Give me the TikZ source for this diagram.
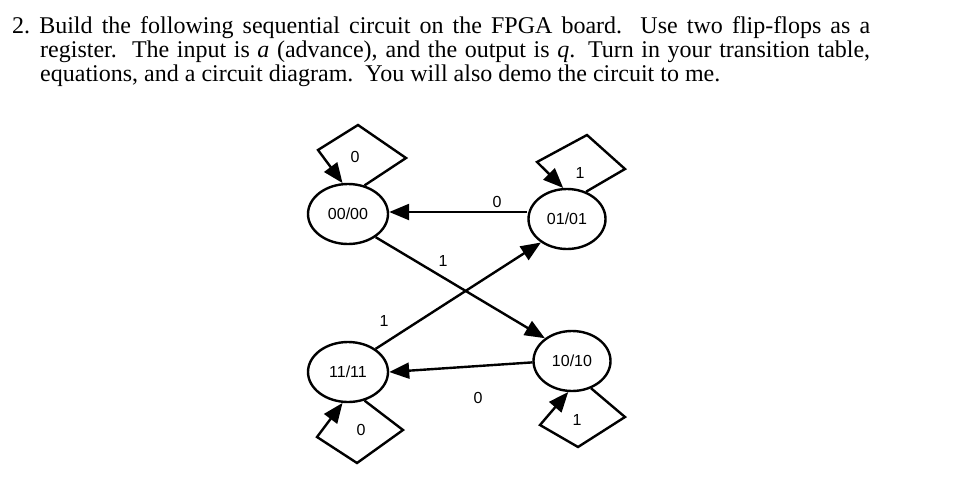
\documentclass[tikz,border=0pt]{standalone}
\usepackage{fontspec}
\setmainfont{Liberation Serif}
\newfontfamily\lsans{Liberation Sans}
\usetikzlibrary{arrows.meta,shapes.geometric}
\begin{document}
\begin{tikzpicture}[x=1pt,y=-1pt,
  st/.style={draw,line width=2.4pt,ellipse,minimum width=80pt,minimum height=60pt,inner sep=0pt,font=\lsans\fontsize{16}{16}\selectfont},
  lp/.style={line width=2.4pt,-{Triangle[length=20pt,width=16pt]},line join=miter},
  ed/.style={line width=2.4pt,-{Triangle[length=20pt,width=16pt]}},
  lb/.style={font=\lsans\fontsize{16}{16}\selectfont,inner sep=0pt},
  hd/.style={anchor=base west,inner sep=0pt,font=\fontsize{24}{26}\selectfont}]
\useasboundingbox (0,0) rectangle (973,490);
\node[hd] (l1) at (12,33) {\makebox[858pt][s]{2.~Build the following sequential circuit on the FPGA board.\ \ Use two flip-flops as a}};
\node[hd] (l2) at (40,57) {\makebox[830pt][s]{register.\ \ The input is \textit{a} (advance), and the output is \textit{q}. Turn in your transition table,}};
\node[hd] (l3) at (40,81) {equations, and a circuit diagram.\ \ You will also demo the circuit to me.};

\node[st] (a) at (348,214) {00/00};
\node[st,minimum width=77pt] (b) at (567,219) {01/01};
\node[st] (d) at (348,372) {11/11};
\node[st,minimum width=77pt] (c) at (572,361) {10/10};

\coordinate (a1) at (406,158); \coordinate (a2) at (358,125); \coordinate (a3) at (318,150);
\draw[lp] (a.60) -- (a1) -- (a2) -- (a3) -- (a.100);
\node[lb] (la) at (355,157) {0};
\coordinate (b1) at (625,169); \coordinate (b2) at (587,135); \coordinate (b3) at (537,162);
\draw[lp] (b.55) -- (b1) -- (b2) -- (b3) -- (b.97);
\node[lb] (lb1) at (580,173) {1};
\coordinate (d1) at (403,430); \coordinate (d2) at (357,463); \coordinate (d3) at (317,437);
\draw[lp] (d.-60) -- (d1) -- (d2) -- (d3) -- (d.-100);
\node[lb] (ld) at (361,430) {0};
\coordinate (c1) at (625,417); \coordinate (c2) at (578,447); \coordinate (c3) at (540,425);
\draw[lp] (c.-55) -- (c1) -- (c2) -- (c3) -- (c.-97);
\node[lb] (lc) at (577,420) {1};

\draw[ed] (b.west |- 0,212) -- (a.east |- 0,212);
\node[lb] (e1) at (497,202) {0};
\draw[ed] (a.-40) -- (c.140);
\node[lb] (e2) at (443,261) {1};
\draw[ed] (d.40) -- (b.-138);
\node[lb] (e3) at (384,321) {1};
\draw[ed] (c.182) -- (d.east);
\node[lb] (e4) at (478,398) {0};
\end{tikzpicture}
\end{document}
